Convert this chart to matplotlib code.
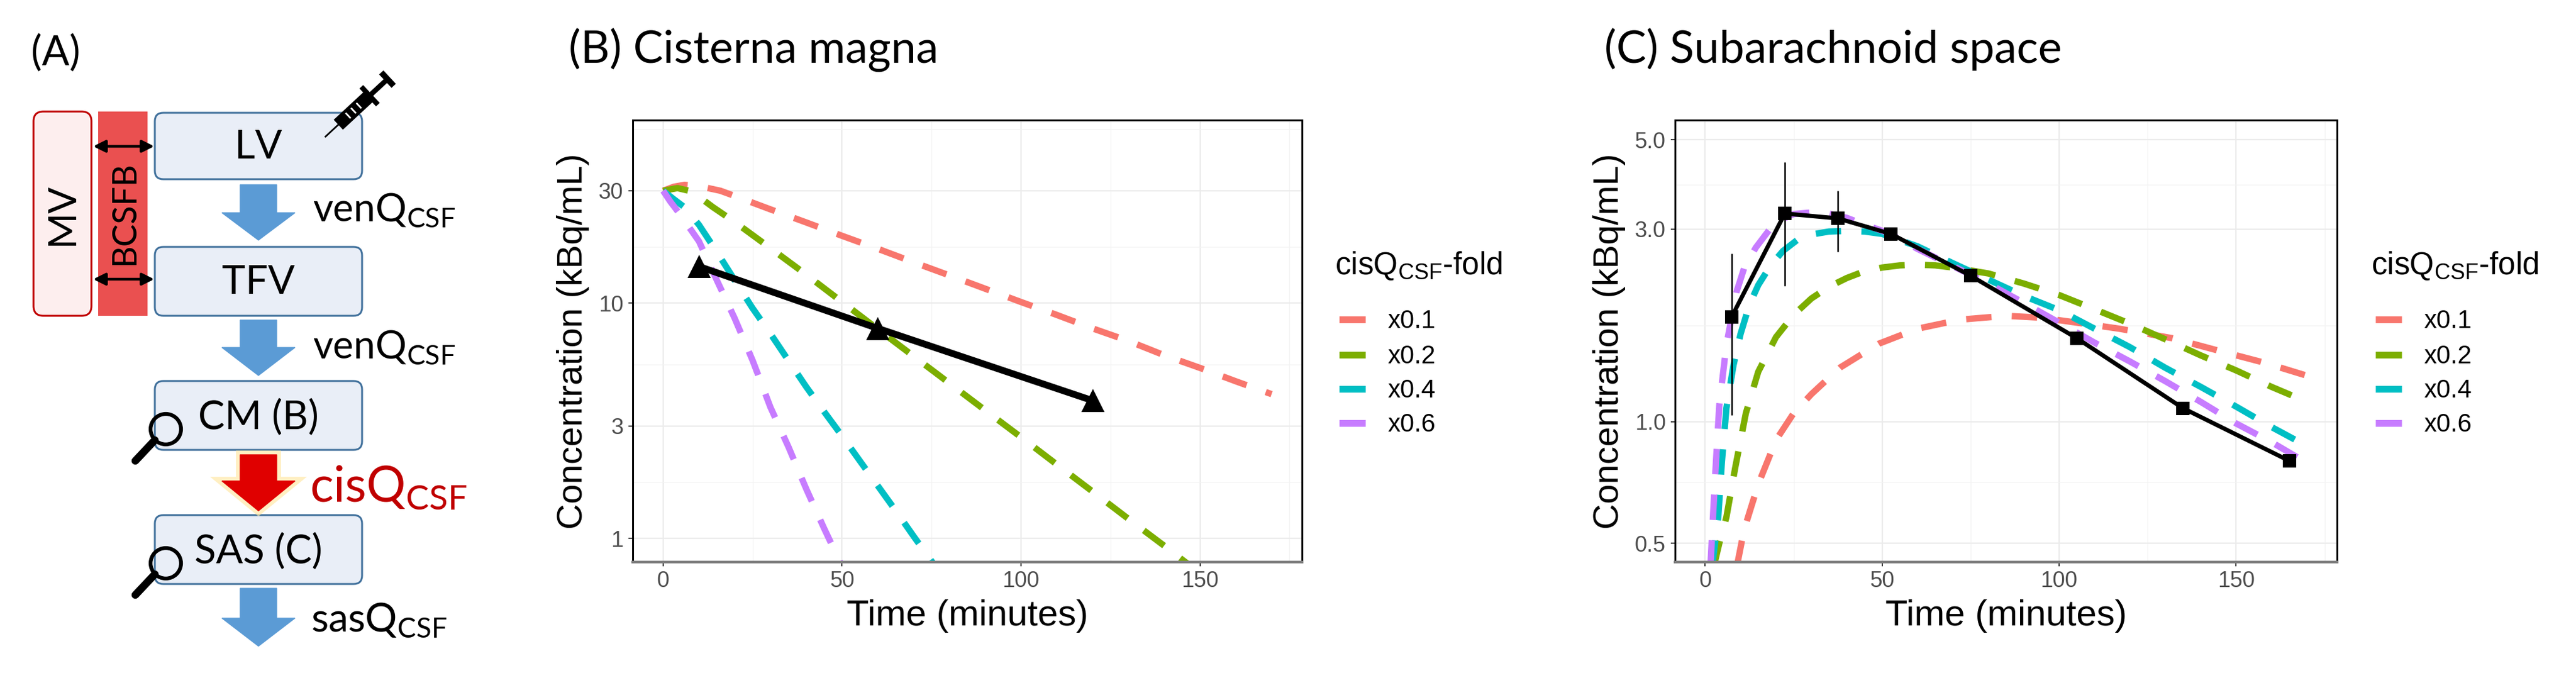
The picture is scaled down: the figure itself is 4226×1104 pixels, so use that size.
import numpy as np
import matplotlib
matplotlib.use("Agg")
import matplotlib.pyplot as plt
from matplotlib.patches import FancyBboxPatch, Rectangle, Polygon, Circle
from matplotlib.lines import Line2D
from matplotlib.ticker import FixedLocator, NullFormatter

W, H = 4226, 1104

# ---- data -------------------------------------------------------------
fold_labels = ["x0.1", "x0.2", "x0.4", "x0.6"]
fold_colors = ["#F8766D", "#7CAE00", "#00BFC4", "#C77CFF"]

# (B) cisterna magna, model curves (kBq/mL vs minutes)
cm_t_x01 = [0, 3, 6, 10, 16, 20, 30, 40, 50, 60, 70, 80, 90, 100, 110, 120, 130, 140, 150, 160, 170]
cm_c_x01 = [30, 31.2, 31.8, 31.4, 30.0, 28.5, 25.0, 22.0, 19.3, 17.0, 14.9, 13.1, 11.5, 10.1, 8.9, 7.8,
            6.9, 6.0, 5.3, 4.65, 4.1]
cm_t_x02 = [0, 4, 8, 14, 20, 30, 40, 50, 60, 70, 80, 90, 100, 110, 120, 130, 140, 150, 160, 170]
cm_c_x02 = [30, 30.8, 29.8, 25.5, 22.1, 17.1, 13.2, 10.1, 7.74, 5.94, 4.56, 3.50, 2.69, 2.06, 1.58,
            1.21, 0.93, 0.71, 0.55, 0.42]
cm_t_x04 = [0, 3, 6, 10, 15, 20, 25, 30, 35, 40, 45, 50, 55, 60, 65, 70, 75, 80]
cm_c_x04 = [30, 27.6, 25.5, 21.5, 16.5, 12.5, 9.5, 7.4, 5.7, 4.4, 3.45, 2.72, 2.13, 1.67, 1.31, 1.02, 0.80, 0.63]
cm_t_x06 = [0, 2, 5, 10, 15, 20, 25, 30, 35, 40, 45, 50, 55]
cm_c_x06 = [30, 27, 23.5, 18.3, 12.5, 8.6, 5.7, 3.6, 2.45, 1.62, 1.10, 0.76, 0.52]

# (B) observed
cm_obs_t = [10, 60, 120]
cm_obs_c = [14.3, 7.8, 3.85]

# (C) subarachnoid space, model curves
sas_t_x01 = [9, 11, 15, 20, 25, 30, 38, 49, 60, 72, 85, 95, 105, 117, 132, 145, 158, 170]
sas_c_x01 = [0.44, 0.54, 0.70, 0.90, 1.05, 1.17, 1.36, 1.56, 1.70, 1.79, 1.83, 1.81, 1.76, 1.70, 1.61,
             1.50, 1.40, 1.30]
sas_t_x02 = [2.5, 4, 6, 8.5, 11.5, 15, 20, 25, 30, 35, 40, 45, 50, 55, 60, 65, 70, 80, 90, 100, 110,
             120, 130, 140, 150, 160, 170]
sas_c_x02 = [0.44, 0.50, 0.58, 0.77, 1.05, 1.33, 1.62, 1.84, 2.02, 2.16, 2.27, 2.36, 2.41, 2.44, 2.45,
             2.44, 2.41, 2.33, 2.20, 2.06, 1.90, 1.75, 1.60, 1.46, 1.34, 1.22, 1.12]
sas_t_x04 = [2, 3.7, 4.7, 6, 8, 10, 12.5, 15, 18.5, 22, 26, 30, 35, 40, 45, 50, 60, 70, 80, 90, 100,
             110, 120, 130, 140, 150, 160, 170]
sas_c_x04 = [0.44, 0.58, 0.79, 1.08, 1.38, 1.65, 1.95, 2.18, 2.44, 2.65, 2.82, 2.91, 2.96, 2.97, 2.96,
             2.92, 2.72, 2.47, 2.25, 2.05, 1.89, 1.70, 1.53, 1.36, 1.22, 1.09, 0.97, 0.87]
sas_t_x06 = [1.5, 2.2, 3.1, 4, 6, 8.8, 11, 14.3, 18, 22, 25, 30, 35, 40, 45, 52.5, 60, 70, 80, 90, 100,
             110, 120, 130, 140, 150, 160, 170]
sas_c_x06 = [0.44, 0.58, 0.81, 1.10, 1.55, 2.09, 2.40, 2.70, 2.98, 3.18, 3.27, 3.30, 3.28, 3.20, 3.08,
             2.92, 2.68, 2.43, 2.20, 1.97, 1.76, 1.57, 1.41, 1.26, 1.12, 0.99, 0.89, 0.79]

# (C) observed, error bars only visible on the first three points
sas_obs_t = [7.5, 22.5, 37.5, 52.5, 75, 105, 135, 165]
sas_obs_c = [1.82, 3.28, 3.19, 2.92, 2.30, 1.61, 1.08, 0.80]
sas_err_t = [7.5, 22.5, 37.5]
sas_err_lo = [1.04, 2.17, 2.64]
sas_err_hi = [2.61, 4.40, 3.74]

cm_series = [(cm_t_x01, cm_c_x01), (cm_t_x02, cm_c_x02), (cm_t_x04, cm_c_x04), (cm_t_x06, cm_c_x06)]
sas_series = [(sas_t_x01, sas_c_x01), (sas_t_x02, sas_c_x02), (sas_t_x04, sas_c_x04), (sas_t_x06, sas_c_x06)]

PLOT_FONT = "Liberation Sans"
DIAG_FONT = "Lato"


def fx(x):
    return x / W


def fy(y):
    return 1 - y / H


fig = plt.figure(figsize=(W / 100, H / 100), dpi=100)
fig.patch.set_facecolor("white")


def style_axes(ax, yticks, ylabels, yminor, ylim, ylab_x):
    ax.set_yscale("log")
    ax.set_xlim(-8.5, 178.5)
    ax.set_ylim(*ylim)
    ax.set_xticks([0, 50, 100, 150])
    ax.set_xticklabels(["0", "50", "100", "150"])
    ax.xaxis.set_minor_locator(FixedLocator([25, 75, 125, 175]))
    ax.set_yticks(yticks)
    ax.set_yticklabels(ylabels)
    ax.yaxis.set_minor_locator(FixedLocator(yminor))
    ax.yaxis.set_minor_formatter(NullFormatter())
    ax.set_axisbelow(True)
    ax.grid(which="major", color="#EBEBEB", lw=1.6)
    ax.grid(which="minor", color="#F3F3F3", lw=0.9)
    ax.tick_params(which="major", length=5, width=1.4, color="#333333", labelsize=26.5,
                   labelcolor="#4D4D4D")
    ax.tick_params(axis="x", pad=5)
    ax.tick_params(axis="y", pad=6)
    ax.tick_params(which="minor", length=0)
    for lab in ax.get_xticklabels() + ax.get_yticklabels():
        lab.set_family(PLOT_FONT)
    for s in ["left", "top", "right"]:
        ax.spines[s].set_color("black")
        ax.spines[s].set_linewidth(2.2)
    ax.spines["bottom"].set_color("#7F7F7F")
    ax.spines["bottom"].set_linewidth(3.2)
    ax.set_xlabel("Time (minutes)", family=PLOT_FONT, fontsize=43)
    ax.xaxis.set_label_coords(0.5, -0.1214)
    ax.xaxis.label.set_verticalalignment("center")
    ax.set_ylabel("Concentration (kBq/mL)", family=PLOT_FONT, fontsize=42)
    ax.yaxis.set_label_coords(ylab_x, 0.5)
    ax.yaxis.label.set_verticalalignment("center")


def draw_legend(x0):
    fig.text(fx(x0), fy(450), r"cisQ$_\mathregular{CSF}$-fold", family=PLOT_FONT, fontsize=37,
             va="baseline", ha="left")
    for i, (lab, col) in enumerate(zip(fold_labels, fold_colors)):
        y = [524, 582, 638, 694][i]
        fig.add_artist(Line2D([fx(x0 + 7), fx(x0 + 50)], [fy(y), fy(y)], color=col, lw=8,
                              solid_capstyle="butt"))
        fig.text(fx(x0 + 87), fy(y + 3), lab, family=PLOT_FONT, fontsize=30, va="center", ha="left")


# ---- panel B ------------------------------------------------------------
axb = fig.add_axes([fx(1038), fy(922), 1098 / W, 725 / H])
for (t, c), col in zip(cm_series, fold_colors):
    axb.plot(t, c, color=col, lw=7.5, dashes=(4, 3.2), dash_capstyle="butt")
axb.plot(cm_obs_t, cm_obs_c, color="black", lw=8, marker="^", ms=28, mew=0)
style_axes(axb, [1, 3, 10, 30], ["1", "3", "10", "30"], [1.73, 5.48, 17.3, 54.8], (0.793, 59.9), -0.0893)
fig.text(fx(933), fy(103), "(B) Cisterna magna", family=DIAG_FONT, fontsize=53, va="baseline")
draw_legend(2190)

# ---- panel C ------------------------------------------------------------
axc = fig.add_axes([fx(2748), fy(922), 1086 / W, 725 / H])
for (t, c), col in zip(sas_series, fold_colors):
    axc.plot(t, c, color=col, lw=7.5, dashes=(4, 3.2), dash_capstyle="butt")
axc.vlines(sas_err_t, sas_err_lo, sas_err_hi, color="black", lw=1.8)
axc.plot(sas_obs_t, sas_obs_c, color="black", lw=5, marker="s", ms=16, mew=0)
style_axes(axc, [0.5, 1.0, 3.0, 5.0], ["0.5", "1.0", "3.0", "5.0"], [0.707, 1.73, 3.87], (0.449, 5.59),
           -0.0994)
fig.text(fx(2632), fy(103), "(C) Subarachnoid space", family=DIAG_FONT, fontsize=53, va="baseline")
draw_legend(3890)

# ---- panel A (diagram, pixel coordinates) -------------------------------
axa = fig.add_axes([0, 0, 800 / W, 1])
axa.set_xlim(0, 800)
axa.set_ylim(1104, 0)
axa.axis("off")

axa.text(51, 88, "(A)", family=DIAG_FONT, fontsize=48, va="center", ha="left")

axa.add_patch(FancyBboxPatch((55, 183), 95, 335, boxstyle="round,pad=0,rounding_size=16",
                             fc="#FDEEEE", ec="#C00000", lw=2.2))
axa.text(102, 352, "MV", rotation=90, family=DIAG_FONT, fontsize=46, ha="center", va="center")
axa.add_patch(Rectangle((161, 183), 81, 335, fc="#EA5050", ec="none"))
axa.text(204, 349, "BCSFB", rotation=90, family=DIAG_FONT, fontsize=40, ha="center", va="center")
for yy in [240, 458]:
    axa.annotate("", xy=(253, yy), xytext=(153, yy),
                 arrowprops=dict(arrowstyle="<|-|>", color="black", lw=3.2, mutation_scale=30,
                                 shrinkA=0, shrinkB=0))

boxes = [(185, 109, "LV"), (405, 113, "TFV"), (625, 113, "CM (B)"), (845, 113, "SAS (C)")]
for y0, hh, lab in boxes:
    axa.add_patch(FancyBboxPatch((254, y0), 340, hh, boxstyle="round,pad=0,rounding_size=14",
                                 fc="#E9EEF7", ec="#41719C", lw=2.2))
    axa.text(424, y0 + hh / 2 + 2, lab, family=DIAG_FONT, fontsize=47, ha="center", va="center")


def block_arrow(y0, yh, y1, color, glow=False):
    cx = 424
    pts = [(cx - 30, y0), (cx + 30, y0), (cx + 30, yh), (cx + 60, yh), (cx, y1), (cx - 60, yh), (cx - 30, yh)]
    if glow:
        axa.add_patch(Polygon(pts, closed=True, fc="#FFE08A", ec="#FFE9A8", lw=10, alpha=0.7))
    axa.add_patch(Polygon(pts, closed=True, fc=color, ec=color, lw=1))


block_arrow(303, 349, 394, "#5B9BD5")
block_arrow(525, 570, 616, "#5B9BD5")
block_arrow(746, 789, 838, "#E00000", glow=True)
block_arrow(965, 1014, 1060, "#5B9BD5")

axa.text(513, 345, r"venQ$_\mathregular{CSF}$", family=DIAG_FONT, fontsize=46, ha="left", va="center")
axa.text(513, 570, r"venQ$_\mathregular{CSF}$", family=DIAG_FONT, fontsize=46, ha="left", va="center")
axa.text(508, 800, r"cisQ$_\mathregular{CSF}$", family=DIAG_FONT, fontsize=58, color="#C00000",
         ha="left", va="center")
axa.text(510, 1018, r"sasQ$_\mathregular{CSF}$", family=DIAG_FONT, fontsize=47, ha="left", va="center")

# magnifying glasses
for cy in [704, 924]:
    axa.add_patch(Circle((272, cy), 25, fill=False, ec="black", lw=4.5))
    axa.plot([254, 222], [cy + 18, cy + 52], color="black", lw=9, solid_capstyle="round")

# syringe
p0 = np.array([533.0, 225.0])
u = np.array([110.0, -102.0]) / 150.0
n = np.array([u[1], -u[0]]) * -1


def seg(a, b, lw, col="black", cap="butt"):
    pa, pb = p0 + u * a, p0 + u * b
    axa.plot([pa[0], pb[0]], [pa[1], pb[1]], color=col, lw=lw, solid_capstyle=cap)


def cross(s, half, lw, col="black"):
    c = p0 + u * s
    axa.plot([c[0] - n[0] * half, c[0] + n[0] * half], [c[1] - n[1] * half, c[1] + n[1] * half],
             color=col, lw=lw, solid_capstyle="butt")


seg(0, 32, 2)
seg(30, 100, 16)
for s in [52, 64, 76]:
    cross(s, 6, 2, col="white")
cross(100, 20, 6)
seg(100, 138, 6)
cross(140, 15, 7)

fig.savefig("out.png", dpi=100, facecolor="white")
